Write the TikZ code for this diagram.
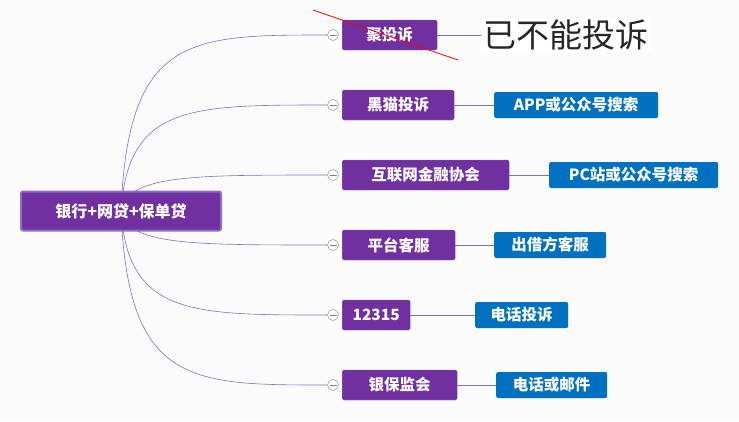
\documentclass[tikz,border=0pt]{standalone}
\usepackage{fontspec}
\setmainfont{Noto Sans CJK SC}
\begin{document}
\begin{tikzpicture}[x=1pt,y=-1pt,
 pbox/.style={fill=P,draw=PB,rounded corners=1.5pt,text=white,font=\fontsize{15.5}{17}\selectfont\bfseries,minimum height=30pt,anchor=west,inner xsep=0pt},
 bbox/.style={fill=B,rounded corners=2pt,text=white,font=\fontsize{15.5}{17}\selectfont\bfseries,minimum height=26pt,anchor=west,inner xsep=0pt},
 con/.style={draw=L,line width=0.6pt},
 circ/.style={circle,draw=gray,fill=white,minimum size=11pt,inner sep=0pt}]
\definecolor{P}{HTML}{7030A0}\definecolor{PB}{HTML}{8A6FC6}\definecolor{B}{HTML}{0070C0}\definecolor{L}{HTML}{8070C0}
\fill[white!97!gray] (0,0) rectangle (739,421);
\useasboundingbox (0,0) rectangle (739,421);
\coordinate (r) at (121,211);
\foreach \n/\y in {1/35,2/105,3/175,4/245,5/315,6/385}{
 \coordinate (e\n) at (327,\y);
 \draw[con] (r) .. controls (128,\y) and (190,\y) .. (e\n);
}
\node[pbox,minimum width=95pt] (c1) at (342,35) {聚投诉};
\node[pbox,minimum width=112pt] (c2) at (342,105) {黑猫投诉};
\node[pbox,minimum width=167pt] (c3) at (342,175) {互联网金融协会};
\node[pbox,minimum width=113pt] (c4) at (342,245) {平台客服};
\node[pbox,minimum width=68pt] (c5) at (342,315) {12315};
\node[pbox,minimum width=115pt] (c6) at (342,385) {银保监会};
\foreach \n in {1,...,6}{\node[circ] (k\n) at (333,0|-c\n) {}; \draw[gray] ([xshift=-3.5pt]k\n.center)--([xshift=3.5pt]k\n.center);}
\node[fill=P,draw=PB,line width=2pt,rounded corners=2pt,text=white,font=\fontsize{16}{18}\selectfont\bfseries,minimum width=200pt,minimum height=39pt] (root) at (r) {银行+网贷+保单贷};
\node[fill=white,anchor=west,inner sep=2pt,font=\fontsize{33}{36}\selectfont,text=black!85] (t1) at (481,35) {已不能投诉};
\node[bbox,minimum width=164pt] (b2) at (494,105) {APP或公众号搜索};
\node[bbox,minimum width=169pt] (b3) at (549,175) {PC站或公众号搜索};
\node[bbox,minimum width=112pt] (b4) at (494,245) {出借方客服};
\node[bbox,minimum width=93pt] (b5) at (475,315) {电话投诉};
\node[bbox,minimum width=111pt] (b6) at (496,385) {电话或邮件};
\draw[con] (c1)--(t1);
\foreach \n in {2,...,6}{\draw[con] (c\n)--(b\n);}
\coordinate (s1) at (313,10); \coordinate (s2) at (458,60);
\draw[red,line width=0.8pt] (s1)--(s2);
\end{tikzpicture}
\end{document}
